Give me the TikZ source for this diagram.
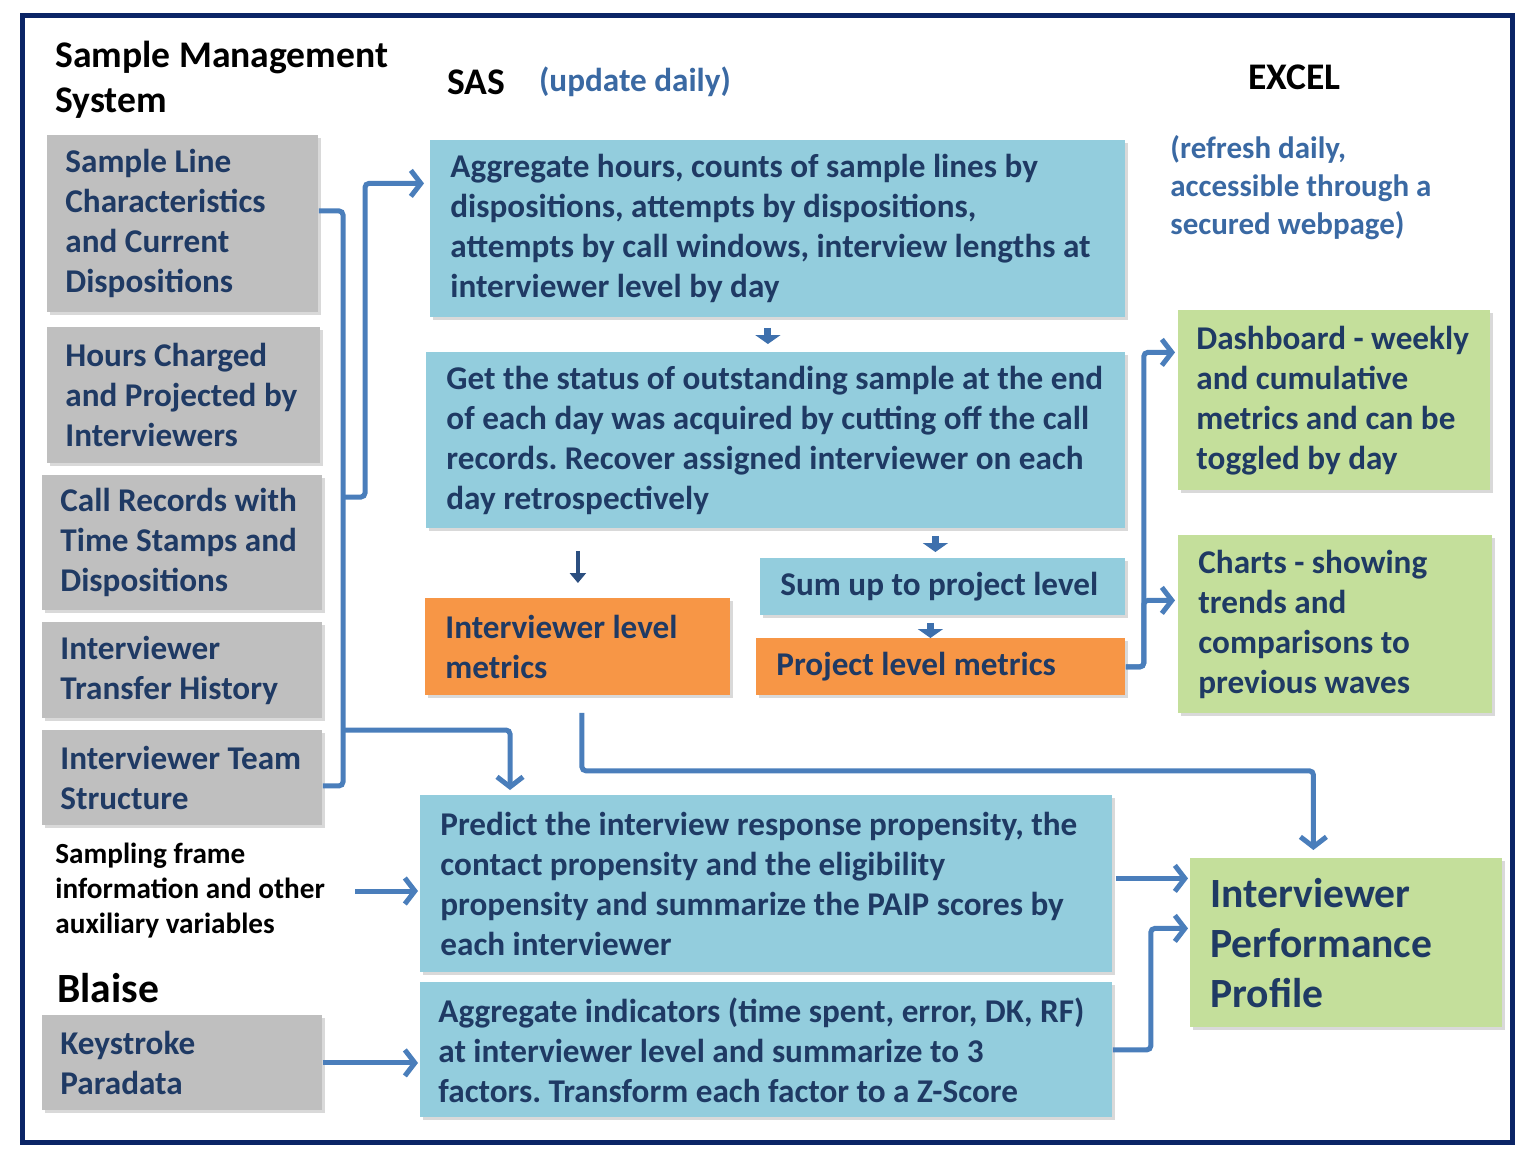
\documentclass[tikz,border=0pt]{standalone}
\usepackage{fontspec}
\setmainfont{Carlito}
\frenchspacing
\usetikzlibrary{
    arrows.meta,      % arrow tips
    positioning,      % relative placement
    shadows           % soft shadows under the boxes
}

\definecolor{boxtext}{HTML}{1F3A64}
\definecolor{smsgray}{HTML}{BFBFBF}
\definecolor{sasblue}{HTML}{93CDDD}
\definecolor{metricorange}{HTML}{F79646}
\definecolor{excelgreen}{HTML}{C4DF9B}
\definecolor{flowblue}{HTML}{4A7EBB}
\definecolor{framenavy}{HTML}{0B2566}
\definecolor{noteblue}{HTML}{3A69A3}
\definecolor{stepblue}{HTML}{3E70AD}
\definecolor{darkstep}{HTML}{2C4F80}

\newcommand{\boxfont}{\fontsize{16.6}{20}\selectfont\bfseries}
\newcommand{\ippfont}{\fontsize{20.8}{25}\selectfont\bfseries}
\newcommand{\headfont}{\fontsize{18.8}{22.5}\selectfont\bfseries}
\newcommand{\notefont}{\fontsize{15.5}{19}\selectfont\bfseries}
\newcommand{\smallnotefont}{\fontsize{14.6}{17.5}\selectfont\bfseries}

\begin{document}
\begin{tikzpicture}[
    x=0.5pt, y=-0.5pt, % one unit = one pixel of the layout
    % Define styles
    panel/.style={rectangle, anchor=north west, inner xsep=10pt, inner ysep=0pt, align=flush left, font=\boxfont, text=boxtext, drop shadow={shadow xshift=1.2pt, shadow yshift=-1.2pt, opacity=0.3}}, % common box
    graybox/.style={panel, inner xsep=9pt, fill=smsgray},  % source tables
    bluebox/.style={panel, fill=sasblue},       % SAS processing
    orangebox/.style={panel, fill=metricorange},% metric outputs
    greenbox/.style={panel, fill=excelgreen},   % Excel products
    label/.style={anchor=west, align=left, inner sep=0pt}, % free text
    flow/.style={draw=flowblue, line width=2.5pt, rounded corners=2pt}, % connector line
    flowarr/.style={flow, -{Straight Barb[length=5pt, width=13pt]}},    % connector with arrow
    blockarr/.style={draw=stepblue, line width=3.5pt, -{Triangle[width=12.5pt, length=4.5pt]}}, % small step arrow
    thinarr/.style={draw=darkstep, line width=1.6pt, -{Triangle[width=8pt, length=5pt]}}       % thin step arrow
]
\useasboundingbox (0,0) rectangle (1536,1163);
\draw[framenavy, line width=2.5pt] (22,15) rectangle (1512,1142);

% ----- HEADINGS -----
\node (smstitle) [label, font=\headfont] at (55,80) {Sample Management\\System};
\node (sas)      [label, font=\headfont] at (447,82) {SAS};
\node (sasnote)  [label, font=\boxfont, text=noteblue, right=16.5pt of sas] {(update daily)};
\node (excel)    [label, font=\headfont] at (1248,77) {EXCEL};
\node (xlnote)   [label, font=\notefont, text=noteblue] at (1170,188) {(refresh daily,\\accessible through a\\secured webpage)};

% ----- SAMPLE MANAGEMENT SYSTEM -----
\node (S1) [graybox, text width=117.5pt, minimum height=88.5pt] at (47,135) {Sample Line\\Characteristics\\and Current\\Dispositions};
\node (S2) [graybox, text width=118.5pt, minimum height=68pt] at (47,327) {Hours Charged\\and Projected by\\Interviewers};
\node (S3) [graybox, text width=122pt, minimum height=67.5pt] at (42,475) {Call Records with\\Time Stamps and\\Dispositions};
\node (S4) [graybox, text width=122pt, minimum height=48pt] at (42,622) {Interviewer\\Transfer History};
\node (S5) [graybox, text width=122pt, minimum height=47.5pt] at (42,730) {Interviewer Team\\Structure};

\node (samp)   [label, font=\smallnotefont] at (55,891) {Sampling frame\\information and other\\auxiliary variables};
\node (blaise) [label, font=\ippfont] at (57,988) {Blaise};
\node (S6) [graybox, text width=122pt, minimum height=47.5pt] at (42,1015) {Keystroke\\Paradata};

% ----- SAS STEPS -----
\node (A) [bluebox, text width=327.5pt, minimum height=88.5pt] at (430,140) {Aggregate hours, counts of sample lines by\\dispositions, attempts by dispositions,\\attempts by call windows, interview lengths at\\interviewer level by day};
\node (B) [bluebox, text width=329.5pt, minimum height=88pt] at (426,352) {Get the status of outstanding sample at the end\\of each day was acquired by cutting off the call\\records. Recover assigned interviewer on each\\day retrospectively};
\node (C) [bluebox, text width=162.5pt, minimum height=28.5pt] at (760,558) {Sum up to project level};
\node (F) [orangebox, text width=132.5pt, minimum height=48.5pt] at (425,598) {Interviewer level\\metrics};
\node (G) [orangebox, text width=164.5pt, minimum height=28.5pt] at (756,638) {Project level metrics};
\node (D) [bluebox, text width=326pt, minimum height=88.5pt] at (420,795) {Predict the interview response propensity, the\\contact propensity and the eligibility\\propensity and summarize the PAIP scores by\\each interviewer};
\node (E) [bluebox, inner xsep=9pt, text width=328pt, minimum height=67.5pt] at (420,982) {Aggregate indicators (time spent, error, DK, RF)\\at interviewer level and summarize to 3\\factors. Transform each factor to a Z-Score};

% ----- EXCEL PRODUCTS -----
\node (H) [greenbox, inner xsep=9pt, text width=138pt, minimum height=90pt] at (1178,310) {Dashboard - weekly\\and cumulative\\metrics and can be\\toggled by day};
\node (I) [greenbox, text width=137pt, minimum height=89pt] at (1178,535) {Charts - showing\\trends and\\comparisons to\\previous waves};
\node (J) [greenbox, font=\ippfont, text width=136pt, minimum height=84.5pt] at (1190,858) {Interviewer\\Performance\\Profile};

% ----- CONNECTORS -----
\coordinate (spine) at (343,500);
\coordinate (j1) at (343,497);
\coordinate (j2) at (343,730);
\draw[flow] ([yshift=6.5pt]S1.east) -| (spine) |- ([yshift=-4pt]S5.east);
\draw[flowarr, shorten >=3pt] (j1) -- ++(11pt,0) |- ([yshift=22.75pt]A.west);
\draw[flowarr, shorten >=2.5pt] (j2) -| ([xshift=45pt]D.north west);
\draw[flowarr, shorten <=15pt, shorten >=1pt] (samp.east) -- (samp.east -| D.west);
\draw[flowarr, shorten >=1pt] (S6.east) -- (S6.east -| E.west);

% step arrows between SAS boxes
\draw[blockarr, shorten <=5pt, shorten >=4pt] ([xshift=-5pt]A.south) -- ([xshift=-5pt]A.south |- B.north);
\draw[blockarr, shorten <=3.5pt, shorten >=3pt] ([xshift=-3.75pt]C.north |- B.south) -- ([xshift=-3.75pt]C.north);
\draw[blockarr, shorten <=3.5pt] ([xshift=-6.25pt]C.south) -- ([xshift=-6.25pt]C.south |- G.north);
\draw[thinarr, shorten <=11pt, shorten >=7.5pt] (B.south -| F.north) -- (F.north);

% metrics to Excel and profile
\draw[flowarr, shorten >=1.5pt] (G.east) -- ++(9pt,0) |- ([yshift=24pt]H.west);
\draw[flowarr, shorten >=1.5pt] (G.east) -- ++(9pt,0) |- ([yshift=12pt]I.west);
\draw[flowarr, shorten <=8.5pt, shorten >=4pt] ([xshift=2pt]F.south) -- ++(0,-37.5pt) -| ([xshift=-16.5pt]J.north);
\draw[flowarr, shorten <=1.5pt, shorten >=1pt] ([yshift=2.75pt]D.east) -- ([yshift=2.75pt]D.east -| J.west);
\draw[flowarr, shorten >=1pt] (E.east) -- ++(19pt,0) |- ([yshift=7.25pt]J.west);

\end{tikzpicture}
\end{document}
